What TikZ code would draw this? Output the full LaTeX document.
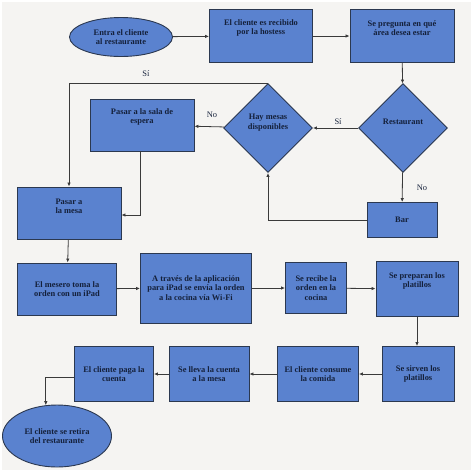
\documentclass[tikz,border=0pt]{standalone}
\usepackage{fontspec}
\setmainfont{Liberation Serif}
\usepackage{xcolor}
\definecolor{fondo}{HTML}{F5F4F2}
\definecolor{azul}{HTML}{5A82CF}
\definecolor{borde}{HTML}{2B3850}
\definecolor{tinta}{HTML}{14203A}
\definecolor{linea}{HTML}{3A3A3A}
\usetikzlibrary{positioning,shapes.geometric,arrows.meta}

\begin{document}
\begin{tikzpicture}[x=1pt, y=-1pt,
  font=\bfseries\fontsize{8.4}{9.6}\selectfont,
  paso/.style={draw=borde, line width=0.9pt, fill=azul, text=tinta,
               align=center, inner sep=2pt},
  inicio/.style={paso, ellipse},
  decision/.style={paso, diamond, minimum width=89pt, minimum height=89pt},
  flujo/.style={-{Latex[length=4pt,width=3.5pt]}, linea, line width=0.8pt},
  etiq/.style={text=tinta, font=\fontsize{8.4}{9}\selectfont}
]
  \useasboundingbox (0,0) rectangle (474,472);
  \fill[fondo] (2,2) rectangle (471,470);

  % fila superior
  \node[inicio, minimum width=103pt, minimum height=39pt] (entra) at (121,37) {Entra el cliente\\al restaurante};
  \node[paso, minimum width=103pt, minimum height=53pt] (hostess) at (261,36) {El cliente es recibido\\por la hostess\\[8pt]};
  \node[paso, minimum width=104pt, minimum height=53pt] (pregunta) at (402,36) {Se pregunta en qué\\área desea estar\\[6pt]};

  \draw[flujo] (entra) -- (hostess);
  \draw[flujo] (hostess) -- (pregunta);

  % decisiones
  \node[decision] (restaurant) at (403,128) {Restaurant\\[3pt]};
  \node[decision] (haymesas) at (268,128) {Hay mesas\\disponibles\\[3pt]};
  \node[paso, minimum width=104pt, minimum height=52pt] (sala) at (142,125) {Pasar a la sala de\\espera\\[8pt]};
  \node[paso, minimum width=70pt, minimum height=35pt] (bar) at (402,220) {Bar};
  \node[paso, minimum width=104pt, minimum height=52pt] (pasarmesa) at (69,213) {Pasar a\\la mesa\\[4pt]};

  \draw[flujo] (pregunta) -- (restaurant);
  \draw[flujo] (restaurant) -- (haymesas);
  \node[etiq] (si1) at (338,122) {Sí};
  \draw[flujo] (haymesas) -- (sala);
  \node[etiq] (no1) at (212,115) {No};
  \draw[flujo] (restaurant) -- (bar);
  \node[etiq] (no2) at (422,188) {No};
  \draw[flujo] (bar.west) -| (haymesas.south);
  \draw[flujo] (haymesas.north) -| (pasarmesa.north);
  \node[etiq] (si2) at (146,74) {Sí};
  \draw[flujo] ([xshift=-2pt]sala.south) |- ([yshift=-2pt]pasarmesa.east);

  % orden
  \node[paso, minimum width=99pt, minimum height=52pt] (mesero) at (67,289) {El mesero toma la\\orden con un iPad};
  \node[paso, minimum width=111pt, minimum height=70pt] (ipad) at (196,288) {A través de la aplicación\\para iPad se envía la orden\\a la cocina vía Wi-Fi};
  \node[paso, minimum width=61pt, minimum height=51pt] (recibe) at (316,288) {Se recibe la\\orden en la\\cocina};
  \node[paso, minimum width=82pt, minimum height=55pt] (preparan) at (417,289) {Se preparan los\\platillos\\[8pt]};

  \draw[flujo] (pasarmesa) -- (mesero);
  \draw[flujo] (mesero) -- (ipad);
  \draw[flujo] (ipad) -- (recibe);
  \draw[flujo] (recibe) -- (preparan);

  % fila inferior
  \node[paso, minimum width=72pt, minimum height=55pt] (sirven) at (418,374) {Se sirven los\\platillos};
  \node[paso, minimum width=81pt, minimum height=55pt] (consume) at (318,374) {El cliente consume\\la comida};
  \node[paso, minimum width=80pt, minimum height=55pt] (lleva) at (209,374) {Se lleva la cuenta\\a la mesa};
  \node[paso, minimum width=79pt, minimum height=55pt] (paga) at (114,374) {El cliente paga la\\cuenta};
  \node[inicio, minimum width=109pt, minimum height=62pt] (retira) at (57,436) {El cliente se retira\\del restaurante};

  \draw[flujo] (preparan.south) -- (preparan.south |- sirven.north);
  \draw[flujo] (sirven) -- (consume);
  \draw[flujo] (consume) -- (lleva);
  \draw[flujo] (lleva) -- (paga);
  \draw[flujo] ([yshift=-3pt]paga.west) -| (retira.110);
\end{tikzpicture}
\end{document}
